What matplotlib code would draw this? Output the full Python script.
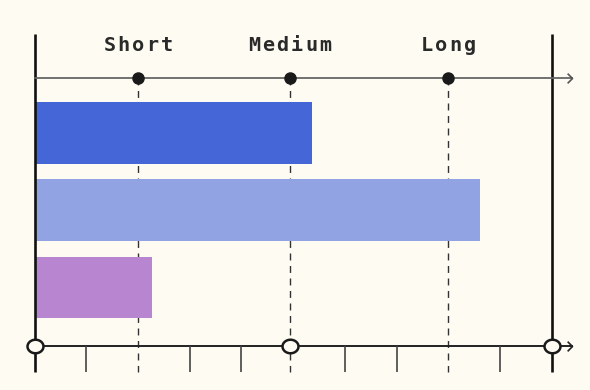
import numpy as np
import matplotlib
matplotlib.use("Agg")
import matplotlib.pyplot as plt
from matplotlib.path import Path

# ---- data ----
bar_names = ["Bar 1", "Bar 2", "Bar 3"]
bar_values = [5.36, 8.61, 2.28]
bar_colors = ["#4466D6", "#91A3E3", "#B886D0"]
mark_labels = ["Short", "Medium", "Long"]
mark_values = [2, 4.93, 8]
tick_values = [1, 3, 4, 6, 7, 9]
open_marks = [0, 4.93, 10]
x_max = 10

BG = "#FDFBF2"
W, H = 590, 390
fig = plt.figure(figsize=(W / 100, H / 100), dpi=100, facecolor=BG)
ax = fig.add_axes([0, 0, 1, 1], facecolor=BG)
ax.axis("off")

# pixel <-> data mapping helpers
x0_px, x_unit = 34.5, 51.73
y0_px, y_unit = 133.0, 77.2
def ypx(p):
    return (p - y0_px) / y_unit
def xpx(p):
    return (p - x0_px) / x_unit

ax.set_xlim(xpx(0), xpx(W))
ax.set_ylim(ypx(H), ypx(0))

y_top_axis = ypx(77.7)
y_bot_axis = ypx(346.0)
y_line_top = ypx(34.3)
y_line_bot = ypx(371.5)
y_label = ypx(50.5)
x_arrow = xpx(571.7)

pos = np.arange(len(bar_names))

# dashed reference lines
for v in mark_values:
    ax.plot([v, v], [y_top_axis, y_line_bot], color="#333333", lw=1.0,
            dashes=(5, 4), zorder=1, solid_capstyle="butt")

# bars
ax.barh(pos, bar_values, height=0.80, color=bar_colors, zorder=2, left=0)

# vertical boundary lines
for v in [0, x_max]:
    ax.plot([v, v], [y_line_top, y_line_bot], color="#111111", lw=1.9,
            zorder=3, solid_capstyle="butt")

# top axis
ax.plot([0, x_arrow], [y_top_axis, y_top_axis], color="#666666", lw=1.3, zorder=3)
# bottom axis
ax.plot([0, x_arrow], [y_bot_axis, y_bot_axis], color="#222222", lw=1.4, zorder=3)

# bottom ticks
for v in tick_values:
    ax.plot([v, v], [y_bot_axis, y_line_bot], color="#444444", lw=1.2,
            zorder=3, solid_capstyle="butt")

# chevron arrow heads
chev = Path([(-1, 1), (0, 0), (-1, -1)], [Path.MOVETO, Path.LINETO, Path.LINETO])
for yy, col in [(y_top_axis, "#555555"), (y_bot_axis, "#222222")]:
    ax.plot([x_arrow], [yy], marker=chev, markersize=7, markeredgewidth=1.2,
            markeredgecolor=col, markerfacecolor="none", zorder=4, linestyle="none")

# filled dots on top axis
ax.plot(mark_values, [y_top_axis] * len(mark_values), "o", color="#1a1a1a",
        markersize=8, zorder=4)

# open elliptical markers on bottom axis
t = np.linspace(0, 2 * np.pi, 60)
ell = Path(np.column_stack([1.18 * np.cos(t), np.sin(t)]), closed=True)
ax.plot(open_marks, [y_bot_axis] * len(open_marks), linestyle="none",
        marker=ell, markersize=11.5, markerfacecolor=BG,
        markeredgecolor="#1a1a1a", markeredgewidth=1.8, zorder=5)

# labels with letter spacing
spacing_pt = 14.3 * 0.72
for lab, v in zip(mark_labels, mark_values):
    n = len(lab)
    for i, ch in enumerate(lab):
        off = (i - (n - 1) / 2) * spacing_pt
        ax.annotate(ch, (v, y_label), xytext=(off, 0), textcoords="offset points",
                    ha="center", va="baseline", fontsize=14.5,
                    family="DejaVu Sans Mono", weight="bold", color="#2a2a2a")

fig.savefig("out.png", dpi=100, facecolor=BG)
